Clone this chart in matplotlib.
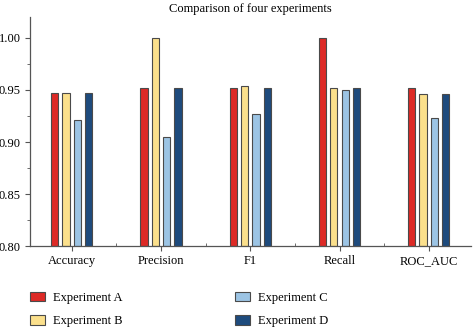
import matplotlib
matplotlib.use("Agg")
import matplotlib.pyplot as plt
import numpy as np
from matplotlib.ticker import FixedLocator, MultipleLocator, FormatStrFormatter

plt.rcParams["font.serif"] = ["Liberation Serif", "DejaVu Serif"]
plt.rcParams["font.family"] = "serif"

metrics = ["Accuracy", "Precision", "F1", "Recall", "ROC_AUC"]
exp_a = [0.947, 0.952, 0.952, 1.000, 0.952]
exp_b = [0.947, 1.000, 0.954, 0.952, 0.9465]
exp_c = [0.921, 0.905, 0.927, 0.950, 0.923]
exp_d = [0.947, 0.952, 0.952, 0.952, 0.946]
labels = ["Experiment A", "Experiment B", "Experiment C", "Experiment D"]
colors = ["#DD2A26", "#FBE08C", "#9CC4E4", "#1E4B7D"]

fig = plt.figure(figsize=(4.74, 3.29), dpi=100)
ax = fig.add_axes([0.063, 0.252, 0.93, 0.696])

x = np.arange(len(metrics))
pitch = 0.127
width = 0.082
series = [exp_a, exp_b, exp_c, exp_d]
for i, (vals, lab, col) in enumerate(zip(series, labels, colors)):
    ax.bar(x + (i - 1.5) * pitch, np.array(vals) - 0.8, width, bottom=0.8,
           color=col, edgecolor="#4a4a4a", linewidth=0.8, label=lab)

ax.set_ylim(0.80, 1.02)
ax.set_xlim(-0.47, 4.47)
ax.set_xticks(x, metrics)
ax.xaxis.set_minor_locator(FixedLocator(x[:-1] + 0.5))
ax.yaxis.set_major_locator(MultipleLocator(0.05))
ax.yaxis.set_minor_locator(MultipleLocator(0.025))
ax.yaxis.set_major_formatter(FormatStrFormatter("%.2f"))
ax.tick_params(axis="both", labelsize=9, color="#555555", length=3.5, width=0.8, pad=3)
ax.tick_params(axis="x", which="minor", direction="in", length=2.5, color="#555555")
ax.tick_params(axis="y", which="minor", length=2, color="#555555")
for s in ["top", "right"]:
    ax.spines[s].set_visible(False)
for s in ["left", "bottom"]:
    ax.spines[s].set_color("#555555")
    ax.spines[s].set_linewidth(0.9)
ax.set_title("Comparison of four experiments", fontsize=9, pad=4)

leg = fig.legend(loc="upper left", bbox_to_anchor=(0.063, 0.113), ncol=2, frameon=False,
                 prop={"family": "serif", "size": 9}, handlelength=1.2, handleheight=0.8,
                 handletextpad=0.65, columnspacing=9.0, labelspacing=0.9,
                 borderpad=0, borderaxespad=0)

fig.savefig("out.png", dpi=100)
